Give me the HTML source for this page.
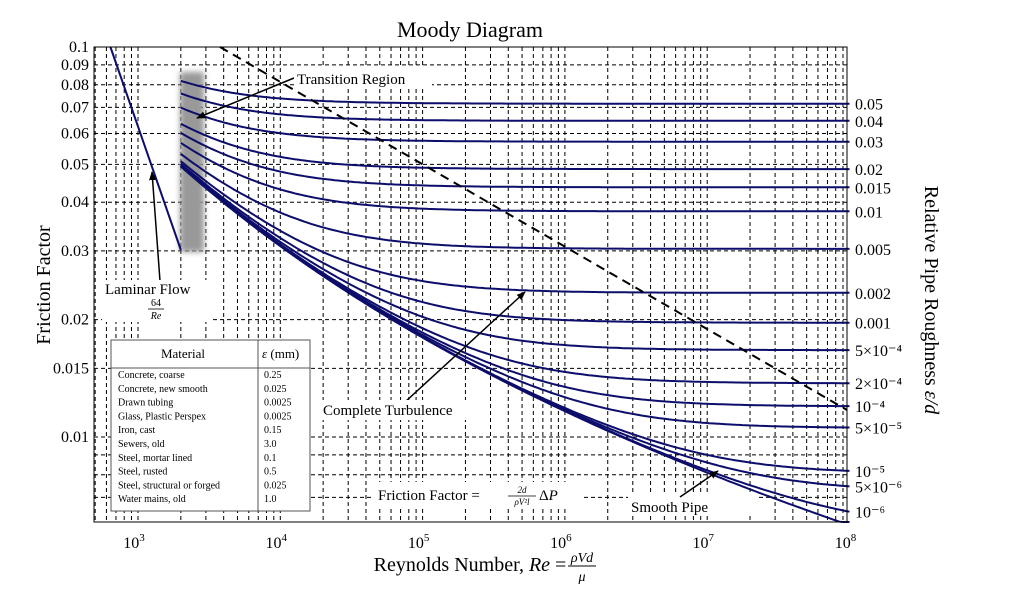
<!DOCTYPE html>
<html><head><meta charset="utf-8"><style>
body{margin:0;background:#fff;}
svg{display:block;font-family:"Liberation Serif",serif;}
</style></head><body>
<svg id="s" width="1012" height="607" xmlns="http://www.w3.org/2000/svg">
<defs>
<filter id="bl" x="-50%" y="-20%" width="200%" height="140%"><feGaussianBlur stdDeviation="3"/></filter>
<marker id="ah" viewBox="0 0 10 10" refX="9" refY="5" markerWidth="6" markerHeight="6" orient="auto"><path d="M0,1 L10,5 L0,9 z" fill="#000"/></marker>
</defs>
<g id="grid"></g>
<rect x="180" y="72" width="24" height="180" fill="#999" filter="url(#bl)"/>
<g id="curves"></g>
<rect x="94" y="47" width="753" height="475" fill="none" stroke="#000" stroke-width="1"/>
<g id="lab" font-size="16"></g>
<text x="470" y="37" font-size="22" text-anchor="middle">Moody Diagram</text>
<text x="470" y="571" font-size="20" text-anchor="middle">Reynolds Number, <tspan font-style="italic">Re</tspan> = </text>
<text x="582" y="562" font-size="14" text-anchor="middle" font-style="italic">ρVd</text>
<line x1="568" y1="566" x2="596" y2="566" stroke="#000"/>
<text x="582" y="581" font-size="14" text-anchor="middle" font-style="italic">μ</text>
<text transform="translate(50,285) rotate(-90)" font-size="20" text-anchor="middle">Friction Factor</text>
<text transform="translate(925,300) rotate(90)" font-size="20" text-anchor="middle">Relative Pipe Roughness <tspan font-style="italic">ε/d</tspan></text>
<g font-size="10">
<rect x="111" y="340" width="199" height="171" fill="#fff" stroke="#555"/>
<line x1="111" y1="368" x2="310" y2="368" stroke="#555"/>
<line x1="258" y1="340" x2="258" y2="511" stroke="#555"/>
<text x="183" y="358" font-size="13" text-anchor="middle">Material</text>
<text x="262" y="358" font-size="13"><tspan font-style="italic">ε</tspan> (mm)</text>
<g id="tbl"></g>
</g>
<g font-size="15">
<line x1="294" y1="78" x2="197" y2="118" stroke="#000" stroke-width="1.5" marker-end="url(#ah)"/>
<rect x="294" y="68" width="138" height="20" fill="#fff"/>
<text x="297" y="84">Transition Region</text>
<line x1="160" y1="281" x2="152" y2="172" stroke="#000" stroke-width="1.5" marker-end="url(#ah)"/>
<rect x="102" y="280" width="110" height="42" fill="#fff"/>
<text x="105" y="294">Laminar Flow</text>
<text x="156" y="306" font-size="10" text-anchor="middle">64</text>
<line x1="148" y1="309" x2="164" y2="309" stroke="#000" stroke-width="0.8"/>
<text x="156" y="319" font-size="10" text-anchor="middle" font-style="italic">Re</text>
<line x1="405" y1="402" x2="525" y2="292" stroke="#000" stroke-width="1.5" marker-end="url(#ah)"/>
<rect x="320" y="400" width="170" height="20" fill="#fff"/>
<text x="323" y="415">Complete Turbulence</text>
<rect x="628" y="494" width="130" height="22" fill="#fff"/>
<text x="631" y="512">Smooth Pipe</text>
<line x1="680" y1="497" x2="718" y2="471" stroke="#000" stroke-width="1.5" marker-end="url(#ah)"/>
<rect x="374" y="482" width="210" height="24" fill="#fff"/>
<text x="378" y="500">Friction Factor = </text>
<text x="522" y="493" font-size="9" text-anchor="middle" font-style="italic">2d</text>
<line x1="508" y1="496" x2="536" y2="496" stroke="#000" stroke-width="0.7"/>
<text x="522" y="505" font-size="9" text-anchor="middle" font-style="italic">ρV²l</text>
<text x="539" y="500">Δ<tspan font-style="italic">P</tspan></text>
</g>
</svg>
<script>
const NS="http://www.w3.org/2000/svg";
const X=r=>138+(Math.log10(r)-3)*142.3;
const Y=f=>47+(-1-Math.log10(f))*390;
const L=94,R=847,T=47,B=522;
function el(p,t,a,txt){const e=document.createElementNS(NS,t);for(const k in a)e.setAttribute(k,a[k]);if(txt!==undefined)e.textContent=txt;p.appendChild(e);return e;}
const g=document.getElementById('grid');
const da={stroke:'#000','stroke-width':1,'stroke-dasharray':'4,3'};
for(let d=2;d<=8;d++)for(let m=1;m<10;m++){const x=X(m*Math.pow(10,d));if(x>L+1&&x<R-1)el(g,'line',Object.assign({x1:x,x2:x,y1:T,y2:B},da));}
const yt=[0.1,0.09,0.08,0.07,0.06,0.05,0.04,0.03,0.02,0.015,0.01,0.009,0.008,0.007];
const lab=document.getElementById('lab');
yt.forEach(f=>{const y=Y(f);if(y>T+1)el(g,'line',Object.assign({x1:L,x2:R,y1:y,y2:y},da));
 if(f>=0.01)el(lab,'text',{x:89,y:y+5,'text-anchor':'end'},String(f));});
for(let d=3;d<=8;d++){const t=el(lab,'text',{x:X(Math.pow(10,d))-4,y:548,'text-anchor':'middle'},'10');el(t,'tspan',{dy:-7,'font-size':11},String(d));}
const c=document.getElementById('curves');
const st={fill:'none',stroke:'#0d0d6b','stroke-width':2};
el(c,'line',Object.assign({x1:X(640),y1:Y(0.1),x2:X(2000),y2:250},st));
function cole(e,Re){let f=0.02;for(let i=0;i<60;i++){const v=-2*Math.log10(e/3.7+2.51/(Re*Math.sqrt(f)));f=1/(v*v);}return f;}
const eps=[0.05,0.04,0.03,0.02,0.015,0.01,0.005,0.002,0.001,5e-4,2e-4,1e-4,5e-5,1e-5,5e-6,1e-6,0];
const nm=['0.05','0.04','0.03','0.02','0.015','0.01','0.005','0.002','0.001','5×10⁻⁴','2×10⁻⁴','10⁻⁴','5×10⁻⁵','10⁻⁵','5×10⁻⁶','10⁻⁶',''];
eps.forEach((e,i)=>{let d='';for(let k=0;k<=200;k++){const lr=Math.log10(2000)+k*(8-Math.log10(2000))/200;const Re=Math.pow(10,lr);let x=X(Re),y=Y(cole(e,Re));if(y>B){y=B;}d+=(k?'L':'M')+x.toFixed(1)+','+y.toFixed(1);}
 el(c,'path',Object.assign({d},st));
 if(nm[i])el(lab,'text',{x:855,y:Y(cole(e,1e8))+6},nm[i]);});
el(c,'line',{x1:220,y1:47,x2:847,y2:410,stroke:'#000','stroke-width':2,'stroke-dasharray':'9,6'});
const rows=[['Concrete, coarse','0.25'],['Concrete, new smooth','0.025'],['Drawn tubing','0.0025'],['Glass, Plastic Perspex','0.0025'],['Iron, cast','0.15'],['Sewers, old','3.0'],['Steel, mortar lined','0.1'],['Steel, rusted','0.5'],['Steel, structural or forged','0.025'],['Water mains, old','1.0']];
const tb=document.getElementById('tbl');
rows.forEach((r,i)=>{const y=378+i*13.8;el(tb,'text',{x:118,y},r[0]);el(tb,'text',{x:264,y},r[1]);});
</script>
</body></html>
